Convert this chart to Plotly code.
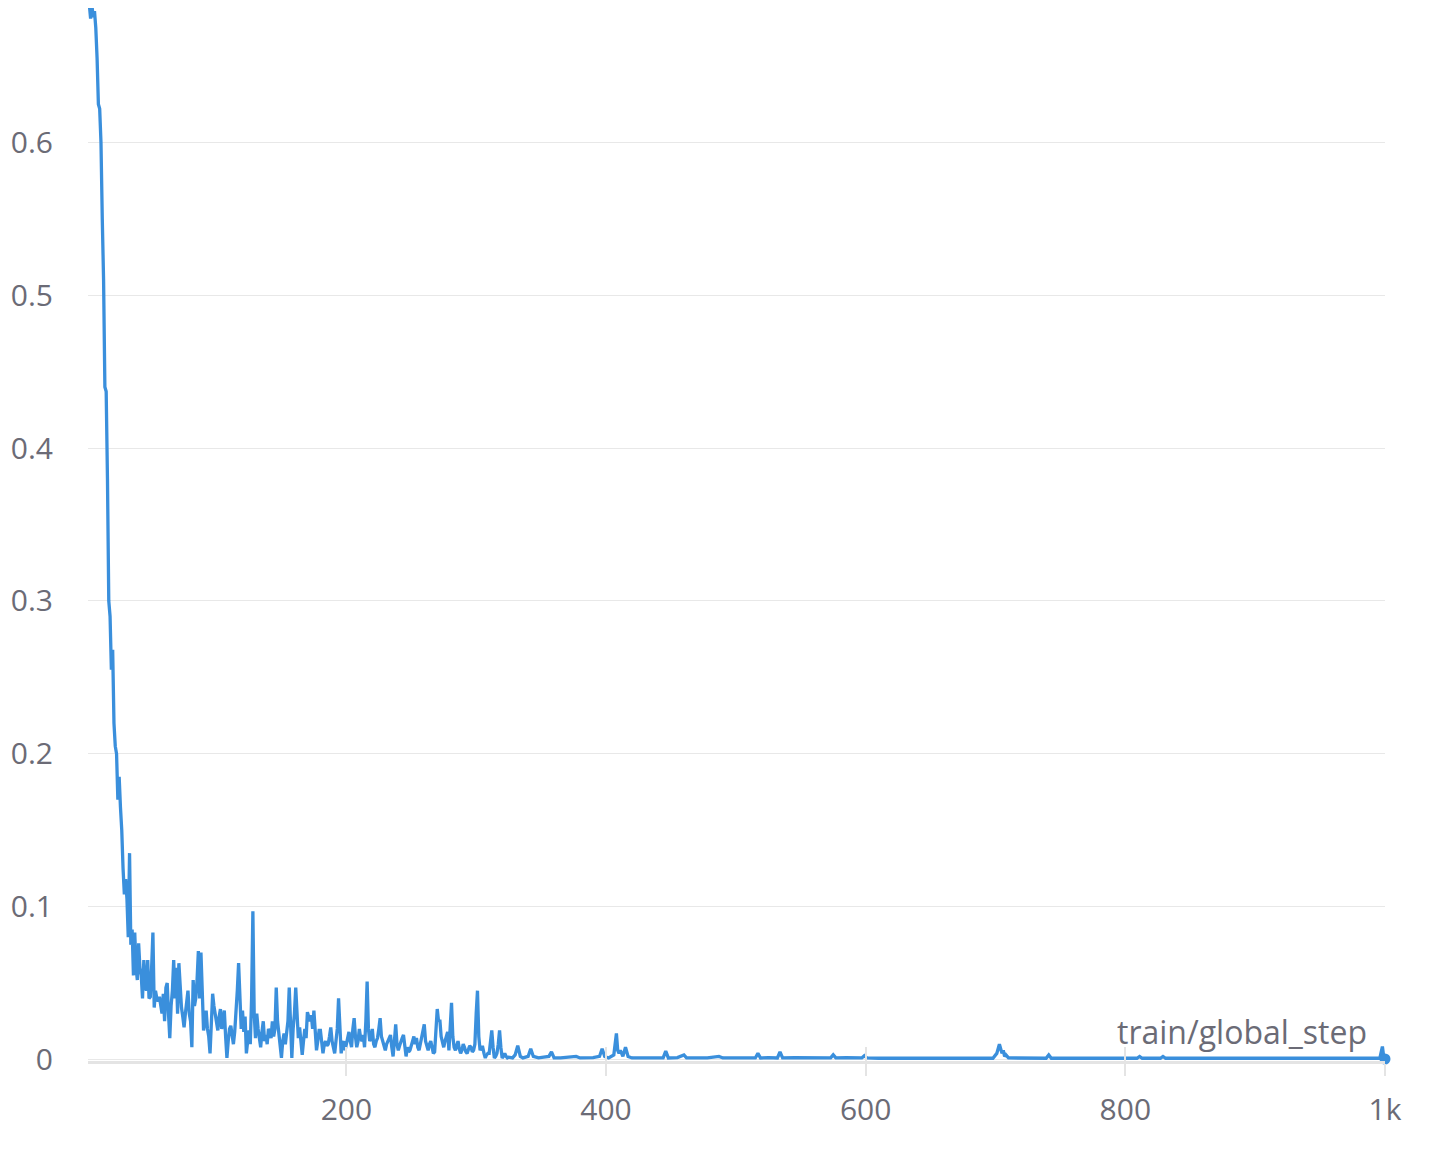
import plotly.graph_objects as go

# train loss per step, steps 1..325
early_loss = [
    0.70, 0.687, 0.681, 0.69, 0.682, 0.686, 0.675, 0.655, 0.625, 0.622,
    0.60, 0.55, 0.51, 0.44, 0.437, 0.38, 0.30, 0.29, 0.255, 0.268,
    0.22, 0.205, 0.20, 0.17, 0.185, 0.165, 0.15, 0.125, 0.108, 0.118,
    0.105, 0.08, 0.135, 0.075, 0.085, 0.055, 0.083, 0.06, 0.052, 0.076,
    0.06, 0.055, 0.04, 0.065, 0.05, 0.045, 0.065, 0.04, 0.041, 0.06,
    0.083, 0.034, 0.045, 0.04, 0.038, 0.041, 0.035, 0.03, 0.043, 0.025,
    0.047, 0.05, 0.03, 0.014, 0.035, 0.045, 0.065, 0.04, 0.06, 0.03,
    0.063, 0.045, 0.034, 0.028, 0.021, 0.03, 0.038, 0.045, 0.03, 0.025,
    0.008, 0.052, 0.035, 0.04, 0.052, 0.071, 0.04, 0.07, 0.045, 0.019,
    0.025, 0.032, 0.02, 0.015, 0.004, 0.025, 0.043, 0.035, 0.03, 0.022,
    0.019, 0.028, 0.033, 0.02, 0.025, 0.032, 0.015, 0.001, 0.012, 0.02,
    0.022, 0.016, 0.01, 0.018, 0.03, 0.045, 0.063, 0.035, 0.02, 0.032,
    0.018, 0.028, 0.004, 0.012, 0.019, 0.01, 0.04, 0.097, 0.03, 0.014,
    0.03, 0.02, 0.015, 0.008, 0.018, 0.025, 0.012, 0.016, 0.01, 0.02,
    0.018, 0.014, 0.025, 0.015, 0.02, 0.047, 0.025, 0.017, 0.008, 0.001,
    0.012, 0.017, 0.01, 0.017, 0.025, 0.047, 0.015, 0.001, 0.02, 0.03,
    0.047, 0.025, 0.014, 0.021, 0.008, 0.003, 0.012, 0.02, 0.014, 0.031,
    0.028, 0.025, 0.029, 0.02, 0.032, 0.015, 0.006, 0.012, 0.019, 0.019,
    0.01, 0.004, 0.01, 0.012, 0.009, 0.01, 0.015, 0.021, 0.012, 0.008,
    0.004, 0.012, 0.02, 0.04, 0.015, 0.004, 0.01, 0.012, 0.006, 0.01,
    0.014, 0.018, 0.012, 0.008, 0.02, 0.027, 0.015, 0.008, 0.012, 0.02,
    0.014, 0.012, 0.016, 0.008, 0.025, 0.051, 0.02, 0.012, 0.014, 0.02,
    0.01, 0.008, 0.012, 0.014, 0.02, 0.027, 0.015, 0.012, 0.009, 0.006,
    0.01, 0.012, 0.013, 0.016, 0.008, 0.002, 0.012, 0.023, 0.01, 0.006,
    0.009, 0.012, 0.014, 0.016, 0.006, 0.002, 0.008, 0.005, 0.006, 0.01,
    0.012, 0.015, 0.01, 0.014, 0.008, 0.006, 0.01, 0.014, 0.018, 0.023,
    0.012, 0.008, 0.006, 0.01, 0.012, 0.008, 0.004, 0.005, 0.02, 0.033,
    0.025, 0.026, 0.015, 0.01, 0.008, 0.012, 0.016, 0.018, 0.006, 0.02,
    0.037, 0.015, 0.008, 0.006, 0.01, 0.012, 0.007, 0.004, 0.006, 0.01,
    0.008, 0.005, 0.004, 0.006, 0.009, 0.008, 0.005, 0.006, 0.01, 0.03,
    0.045, 0.015, 0.006, 0.008, 0.008, 0.004, 0.001, 0.003, 0.004, 0.004,
    0.01, 0.019, 0.008, 0.001, 0.002, 0.004, 0.01, 0.019, 0.008, 0.001,
    0.002, 0.004, 0.002, 0.001, 0.0015,
]
early_steps = list(range(1, len(early_loss) + 1))

# quieter tail, sampled where the curve changes
tail_steps = [
    328, 330, 332, 334, 336, 340, 342, 344, 348, 352, 356, 358, 360, 365,
    370, 375, 377, 380, 385, 390, 395, 397, 399, 402, 406, 408, 409, 410,
    411, 413, 415, 417, 420, 425, 430, 435, 440, 444, 446, 448, 455, 460,
    462, 470, 478, 487, 490, 500, 510, 515, 517, 519, 525, 532, 534, 536,
    545, 555, 565, 573, 575, 577, 585, 597, 599, 601, 610, 620, 630, 640,
    650, 660, 670, 680, 690, 698, 701, 703, 705, 706, 707, 708, 710, 720,
    730, 739, 741, 743, 750, 760, 770, 780, 790, 800, 809, 811, 813, 820,
    827, 829, 831, 840, 850, 860, 870, 880, 890, 900, 910, 920, 930, 940,
    950, 960, 970, 980, 990, 996, 998, 999, 1000,
]
tail_loss = [
    0.001, 0.003, 0.009, 0.002, 0.001, 0.002, 0.007, 0.002, 0.001, 0.0015,
    0.002, 0.005, 0.001, 0.001, 0.0012, 0.0015, 0.002, 0.001, 0.001, 0.0012,
    0.002, 0.007, 0.002, 0.001, 0.003, 0.017, 0.006, 0.004, 0.006, 0.002,
    0.008, 0.002, 0.001, 0.001, 0.0012, 0.001, 0.0012, 0.001, 0.0055, 0.001,
    0.0012, 0.003, 0.001, 0.0012, 0.001, 0.002, 0.001, 0.001, 0.0012, 0.001,
    0.004, 0.001, 0.0012, 0.001, 0.005, 0.001, 0.0012, 0.001, 0.0012, 0.001,
    0.003, 0.001, 0.0012, 0.001, 0.0025, 0.001, 0.0008, 0.0008, 0.001, 0.0008,
    0.0008, 0.001, 0.0008, 0.0008, 0.0008, 0.0008, 0.004, 0.010, 0.004, 0.006,
    0.002, 0.003, 0.001, 0.0008, 0.0008, 0.0008, 0.003, 0.0008, 0.0008, 0.0008,
    0.0008, 0.001, 0.0008, 0.0008, 0.0008, 0.002, 0.0008, 0.0008, 0.0008, 0.002,
    0.0008, 0.0008, 0.0008, 0.001, 0.0008, 0.0008, 0.0008, 0.001, 0.0008, 0.0008,
    0.0008, 0.0008, 0.001, 0.0008, 0.0008, 0.0008, 0.0008, 0.0008, 0.0085, 0.002,
    0.0003,
]

x_tick_vals = [200, 400, 600, 800, 1000]
x_tick_text = ['200', '400', '600', '800', '1k']
y_tick_vals = [0, 0.1, 0.2, 0.3, 0.4, 0.5, 0.6]
y_tick_text = ['0', '0.1', '0.2', '0.3', '0.4', '0.5', '0.6']

blue = '#3a8fdc'
grey_text = '#6b6b76'

steps = early_steps + tail_steps
loss = early_loss + tail_loss

fig = go.Figure()
fig.add_trace(go.Scatter(x=steps, y=loss, mode='lines',
                         line=dict(color=blue, width=3.3),
                         showlegend=False, hoverinfo='skip'))
# last-point dot, drawn on the overlay axis so the inside ticks show
fig.add_trace(go.Scatter(x=steps[-1:], y=loss[-1:], mode='markers',
                         marker=dict(color=blue, size=11),
                         cliponaxis=False, xaxis='x2',
                         showlegend=False, hoverinfo='skip'))

fig.add_annotation(text='train/global_step', xref='paper', yref='paper',
                   x=0.9875, y=0.0, xanchor='right', yanchor='bottom',
                   yshift=6, showarrow=False,
                   font=dict(size=32, color=grey_text))

x_common = dict(range=[1, 1000], showgrid=False, zeroline=False,
                tickvals=x_tick_vals)

# page body adds an 8px margin, so the figure is a little smaller
fig.update_layout(
    width=1428, height=1150,
    margin=dict(l=80, r=51, t=0, b=97),
    paper_bgcolor='white', plot_bgcolor='white',
    font=dict(family='Open Sans', color=grey_text, size=30),
    xaxis=dict(**x_common, ticktext=x_tick_text,
               showline=True, linecolor='#e4e4e4', linewidth=3,
               ticks='outside', ticklen=12, tickwidth=2, tickcolor='#e4e4e4',
               ticklabelstandoff=8),
    xaxis2=dict(**x_common, overlaying='x', anchor='y', side='bottom',
                showticklabels=False, showline=False,
                ticks='inside', ticklen=14, tickwidth=2, tickcolor='#e4e4e4'),
    yaxis=dict(range=[-0.001, 0.688], tickvals=y_tick_vals,
               ticktext=y_tick_text, showgrid=True, gridcolor='#e8e8e8',
               gridwidth=1, zeroline=False, showline=False,
               ticklabelstandoff=34),
)

fig.write_html("out.html")
